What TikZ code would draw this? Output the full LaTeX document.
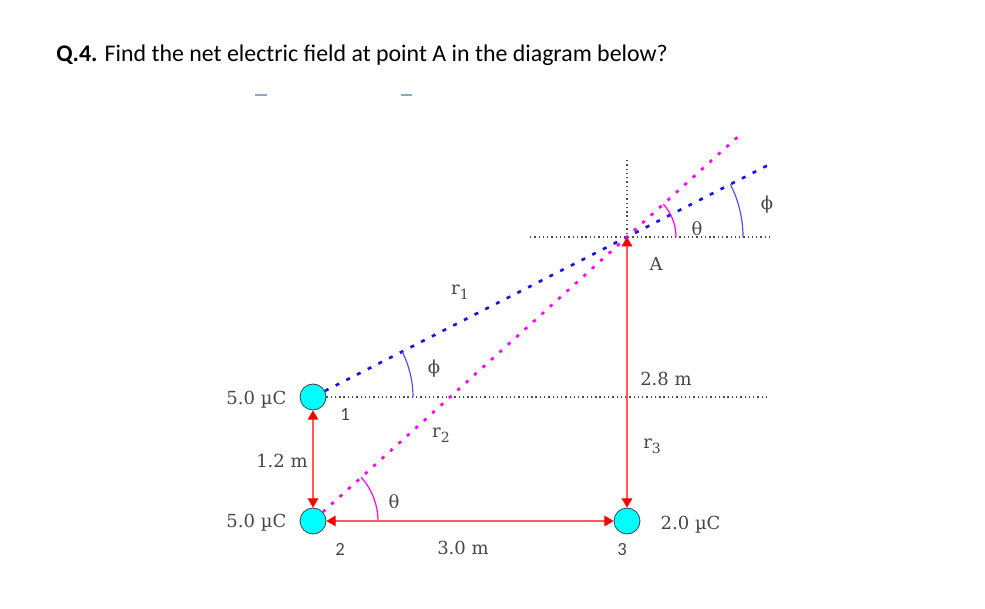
\documentclass[tikz,border=0pt]{standalone}
\usepackage{fontspec}
\setmainfont{DejaVu Serif}
\newfontfamily\titlefont{Carlito}
\usetikzlibrary{arrows.meta,calc}

\definecolor{dashgray}{RGB}{142,169,200}
\definecolor{arrowred}{RGB}{255,90,90}
\definecolor{tipred}{RGB}{255,0,0}
\definecolor{dotblue}{RGB}{20,20,240}
\definecolor{arcblue}{RGB}{80,80,255}
\definecolor{chargecyan}{RGB}{0,255,255}
\definecolor{pink}{RGB}{255,0,255}
\definecolor{textgray}{RGB}{70,70,70}

\newcommand{\rsub}[1]{r\raisebox{-3.5pt}{\fontsize{10.5}{12}\selectfont #1}}

\begin{document}
\begin{tikzpicture}[x=0.75pt,y=-0.75pt,
  charge/.style={circle,draw=black!75,fill=chargecyan,minimum size=19.5pt,inner sep=0pt,line width=0.6pt},
  lbl/.style={text=textgray,font=\fontsize{13.5}{15}\selectfont},
  num/.style={text=textgray,font=\titlefont\fontsize{14}{16}\selectfont},
  dist/.style={draw=arrowred,line width=1pt,{Triangle[width=8pt,length=7pt,color=tipred]}-{Triangle[width=8pt,length=7pt,color=tipred]}},
  guide/.style={black!70,line width=0.9pt,dash pattern=on 1pt off 2.2pt},
  rone/.style={dotblue,line width=2pt,dash pattern=on 3pt off 6pt},
  rtwo/.style={pink,line width=2pt,dash pattern=on 2.5pt off 6pt},
  angarc/.style={line width=0.9pt}]
\useasboundingbox (0,0) rectangle (985,609);

%question
\node[anchor=base west,font=\titlefont\fontsize{17.9}{20}\selectfont,inner sep=0pt] (title) at (56,62)
  {\textbf{Q.4.} Find the net electric field at point A in the diagram below?};
\draw[dashgray,line width=1.5pt] (255,95) -- (267,95);
\draw[dashgray,line width=1.5pt] (401,95) -- (412,95);

%charges
\node[charge] (q1) at (313,397) {};
\node[charge] (q2) at (313,521) {};
\node[charge] (q3) at (627,521) {};
\coordinate (A) at (627,237);

%dotted guides
\coordinate (hA0) at (530,237);
\coordinate (hA1) at (770,237);
\coordinate (vA) at (627,160);
\coordinate (h1) at (770,397);
\draw[guide] (hA0) -- (hA1);
\draw[guide] (vA) -- (A);
\draw[guide] (q1) -- (h1);

%r1 and r2
\coordinate (r1end) at ($(q1.center)!1.455!(A)$);
\coordinate (r2end) at ($(q2.center)!1.37!(A)$);
\draw[rone] (q1) -- (r1end);
\draw[rtwo] (q2) -- (r2end);

%angles
\draw[angarc,pink] ($(q2.center)+(65,0)$) arc[start angle=0,end angle=42.1,radius=48.75pt];
\draw[angarc,arcblue] ($(q1.center)+(100,0)$) arc[start angle=0,end angle=27,radius=75pt];
\draw[angarc,pink] ($(A)+(49,0)$) arc[start angle=0,end angle=42.1,radius=36.75pt];
\draw[angarc,arcblue] ($(A)+(116,0)$) arc[start angle=0,end angle=27,radius=87pt];

%distances
\draw[dist] (q1) -- (q2);
\draw[dist] (q2) -- (q3);
\draw[dist] (A) -- (q3);

%labels
\node[lbl,anchor=east] (c1) at (291,400) {5.0 µC};
\node[lbl,anchor=east] (c2) at (291,523) {5.0 µC};
\node[lbl,anchor=west] (c3) at (656,525) {2.0 µC};
\node[num] (n1) at (345,414) {1};
\node[num] (n2) at (340,549) {2};
\node[num] (n3) at (622,550) {3};
\node[lbl] (d12) at (282,461) {1.2 m};
\node[lbl] (d23) at (463,548) {3.0 m};
\node[lbl] (dA3) at (666,379) {2.8 m};
\node[lbl] (lA) at (656,264) {A};
\node[lbl] (lr1) at (460,292) {\rsub{1}};
\node[lbl] (lr2) at (441,435) {\rsub{2}};
\node[lbl] (lr3) at (652,446) {\rsub{3}};
\node[lbl] (th1) at (394,502) {θ};
\node[lbl] (th2) at (697,229) {θ};
\node[lbl] (ph1) at (434,369) {ϕ};
\node[lbl] (ph2) at (767,205) {ϕ};

\end{tikzpicture}
\end{document}
